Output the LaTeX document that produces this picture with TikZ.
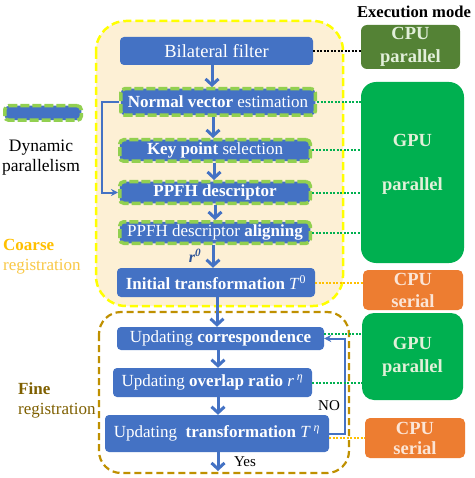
\documentclass[tikz,border=0pt]{standalone}
\usepackage{fontspec}
\setmainfont{Liberation Serif}
\usetikzlibrary{arrows.meta}
\definecolor{myblue}{HTML}{4472C4}
\definecolor{dgreen}{HTML}{92D050}
\definecolor{coarsefill}{HTML}{FDF0D5}
\definecolor{coarseline}{HTML}{FFFF00}
\definecolor{fineline}{HTML}{BF9000}
\definecolor{cpupar}{HTML}{548235}
\definecolor{gpupar}{HTML}{00B050}
\definecolor{cpuser}{HTML}{ED7D31}
\definecolor{cpupartext}{HTML}{E2EFDA}
\definecolor{gputext}{HTML}{E2F0D9}
\definecolor{cpusertext}{HTML}{FBE5D6}
\definecolor{coarseA}{HTML}{FFC000}
\definecolor{coarseB}{HTML}{F9C846}
\definecolor{fineA}{HTML}{7F6000}
\definecolor{dotgreen}{HTML}{00B050}
\definecolor{dotyellow}{HTML}{FFC000}
\definecolor{rblue}{HTML}{2F5597}
\begin{document}
\begin{tikzpicture}[x=1pt,y=-1pt,
  bbox/.style={fill=myblue, rounded corners=4pt, text=white, inner sep=0pt, font=\fontsize{17}{20}\selectfont},
  dbox/.style={bbox, draw=dgreen, line width=3.5pt, dash pattern=on 9pt off 3pt},
  rbox/.style={rounded corners=6pt, inner sep=0pt, align=center, font=\fontsize{18.5}{23}\selectfont\bfseries},
  rtext/.style={inner sep=0pt, align=center, font=\fontsize{18.5}{23}\selectfont\bfseries},
  arr/.style={draw=myblue, line width=3pt, -{Straight Barb[length=6pt,width=13pt]}},
  fb/.style={draw=myblue, line width=2pt, -{Stealth[length=7pt,width=7pt]}},
  dotk/.style={draw=black, line width=2pt, dash pattern=on 2pt off 1.5pt},
  dotg/.style={draw=dotgreen, line width=2pt, dash pattern=on 2pt off 1.5pt},
  doty/.style={draw=dotyellow, line width=2pt, dash pattern=on 2pt off 1.5pt},
  lbl/.style={inner sep=0pt, font=\fontsize{17}{20}\selectfont},
  small/.style={inner sep=0pt, font=\fontsize{15}{18}\selectfont}
]
\fill[white] (0,0) rectangle (474,478);
\useasboundingbox (0,0) rectangle (474,478);

% group frames
\draw[fill=coarsefill, draw=coarseline, line width=2.5pt, dash pattern=on 8pt off 4pt, rounded corners=30pt] (96,21) rectangle (343,306);
\draw[draw=fineline, line width=2.2pt, dash pattern=on 7pt off 4pt, rounded corners=22pt] (99,312) rectangle (349,473);

% flow boxes
\node[bbox, minimum width=193pt, minimum height=28pt, font=\fontsize{18.5}{22}\selectfont] (bil) at (216.5,51) {Bilateral filter};
\node[dbox, minimum width=194.5pt, minimum height=26.5pt] (nve) at (218,102) {\textbf{Normal vector} estimation};
\node[dbox, minimum width=190.5pt, minimum height=21.5pt] (kps) at (215,150.5) {\textbf{Key point} selection};
\node[dbox, minimum width=190.5pt, minimum height=21.5pt] (ppfh) at (215,192.5) {\textbf{PPFH descriptor}};
\node[dbox, minimum width=190.5pt, minimum height=21.5pt] (aln) at (215,232.5) {PPFH descriptor \textbf{aligning}};
\node[bbox, minimum width=198pt, minimum height=29pt] (init) at (216,282.5) {\textbf{Initial transformation} \textit{T}\textsuperscript{0}};
\node[bbox, minimum width=207pt, minimum height=23pt] (corr) at (220.5,338.5) {Updating \textbf{correspondence}};
\node[bbox, minimum width=199pt, minimum height=29pt] (ovl) at (212.5,382.5) {Updating \textbf{overlap ratio} \textit{r}\,\textsuperscript{\textit{η}}};
\node[bbox, minimum width=224pt, minimum height=37pt] (trf) at (217,433.5) {Updating\ \ \textbf{transformation} \textit{T}\,\textsuperscript{\textit{η}}};

% execution mode boxes
\node[inner sep=0pt, font=\fontsize{16.6}{20}\selectfont\bfseries] (exm) at (414,12) {Execution mode};
\node[rbox, fill=cpupar, text=cpupartext, minimum width=99pt, minimum height=44pt] (cpup) at (410.5,47) {CPU\\parallel};
\node[rbox, fill=gpupar, rounded corners=15pt, minimum width=103pt, minimum height=181pt] (gpu1) at (412.5,172.5) {};
\node[rtext, text=gputext] (gpu1t) at (412.5,164.5) {GPU\\[21pt]parallel};
\node[rbox, fill=cpuser, text=cpusertext, rounded corners=5pt, minimum width=100pt, minimum height=40pt, font=\fontsize{18.5}{22}\selectfont\bfseries] (cpus1) at (413,290) {CPU\\serial};
\node[rbox, fill=gpupar, text=gputext, rounded corners=12pt, minimum width=101pt, minimum height=87pt] (gpu2) at (412.5,356.5) {GPU\\parallel};
\node[rbox, fill=cpuser, text=cpusertext, rounded corners=5pt, minimum width=100pt, minimum height=40pt, font=\fontsize{18.5}{20}\selectfont\bfseries] (cpus2) at (415,438) {CPU\\serial};

% legend and side labels
\node[dbox, minimum width=76.5pt, minimum height=14.5pt] (leg) at (43,113) {};
\node[lbl, align=center, font=\fontsize{17.5}{20}\selectfont] (dyn) at (41,158) {Dynamic\\parallelism};
\node[lbl, align=left, anchor=west] (coarse) at (3,257) {{\bfseries\color{coarseA}Coarse}\\{\color{coarseB}registration}};
\node[lbl, align=left, anchor=west, text=fineA] (fine) at (18,400) {\textbf{Fine}\\registration};

% main flow arrows
\draw[arr] ([xshift=-4.5pt]bil.south) -- ([xshift=-4.5pt]bil.south |- nve.north);
\draw[arr] ([xshift=-5pt]nve.south) -- ([xshift=-5pt]nve.south |- kps.north);
\draw[arr] ([xshift=-1pt]kps.south) -- ([xshift=-1pt]kps.south |- ppfh.north);
\draw[arr] (ppfh.south) -- (ppfh.south |- aln.north);
\draw[arr] ([xshift=-2pt]aln.south) -- ([xshift=-2pt]aln.south |- init.north);
\draw[arr] ([xshift=1pt]init.south) -- ([xshift=1pt]init.south |- corr.north);
\draw[arr] ([xshift=-2.5pt]corr.south) -- ([xshift=-2.5pt]corr.south |- ovl.north);
\draw[arr] ([xshift=5.5pt]ovl.south) -- ([xshift=5.5pt]ovl.south |- trf.north);
\coordinate (yesend) at (218,471);
\draw[arr] ([xshift=1pt]trf.south) -- (yesend);
\node[inner sep=0pt, text=rblue, font=\fontsize{16}{18}\selectfont\bfseries\itshape] (r0) at (195,256) {r\textsuperscript{0}};
\node[small] (yes) at (245,462) {Yes};
\node[small] (no) at (329,406) {NO};

% feedback loops
\draw[fb] (nve.west) -- ++(-17,0) |- (ppfh.west);
\draw[fb] (trf.east) -- ++(16,0) |- (corr.east);

% dotted links to execution modes
\draw[dotk] (bil.east) -- (bil.east -| cpup.west);
\draw[dotg] (nve.east) -- (nve.east -| gpu1.west);
\draw[dotg] (kps.east) -- (kps.east -| gpu1.west);
\draw[dotg] (ppfh.east) -- (ppfh.east -| gpu1.west);
\draw[dotg] (aln.east) -- (aln.east -| gpu1.west);
\draw[doty] (init.east) -- (init.east -| cpus1.west);
\draw[dotg] ([yshift=5pt]corr.east) -- ([yshift=5pt]corr.east -| gpu2.west);
\draw[dotg] (ovl.east) -- (ovl.east -| gpu2.west);
\draw[doty] ([yshift=-4pt]trf.east) -- ([yshift=-4pt]trf.east -| cpus2.west);
\end{tikzpicture}
\end{document}
